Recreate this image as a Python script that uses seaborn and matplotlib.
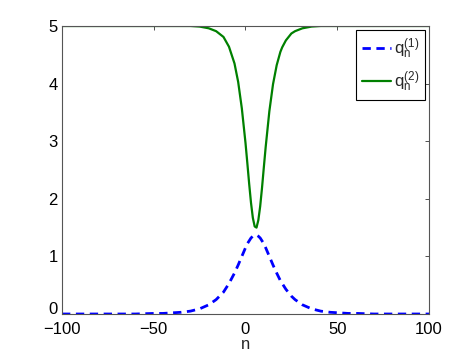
import matplotlib
matplotlib.use("Agg")
import matplotlib.pyplot as plt
import matplotlib.transforms as mtransforms
import seaborn as sns
import pandas as pd

# lattice sites
n_vals = [-100, -80, -60, -50, -45, -40, -35, -30, -25, -20, -16, -12, -9, -6, -4, -2,
          0, 1, 2, 3, 4, 5, 6, 7, 8, 9, 10, 11, 13, 15, 17, 19, 20, 22, 25, 27, 31,
          36, 41, 46, 51, 56, 61, 70, 85, 100]
q1_vals = [0.00, 0.00, 0.00, 0.01, 0.01, 0.02, 0.03, 0.05, 0.09, 0.16, 0.25, 0.38, 0.53, 0.71, 0.85, 1.00,
           1.15, 1.22, 1.27, 1.32, 1.35, 1.37, 1.37, 1.35, 1.32, 1.27, 1.22, 1.15, 1.00, 0.85, 0.71, 0.58, 0.53, 0.43, 0.31, 0.25, 0.16,
           0.09, 0.05, 0.03, 0.02, 0.01, 0.01, 0.00, 0.00, 0.00]
q2_vals = [5.00, 5.00, 5.00, 5.00, 5.00, 5.00, 5.00, 5.00, 4.99, 4.96, 4.91, 4.81, 4.64, 4.35, 4.03, 3.57,
           2.97, 2.62, 2.26, 1.93, 1.67, 1.52, 1.50, 1.63, 1.87, 2.19, 2.55, 2.90, 3.52, 3.99, 4.32, 4.55, 4.63, 4.75, 4.87, 4.91, 4.96,
           4.99, 5.00, 5.00, 5.00, 5.00, 5.00, 5.00, 5.00, 5.00]
series_labels = [r"$q_n^{(1)}$", r"$q_n^{(2)}$"]
x_ticks = [-100, -50, 0, 50, 100]
x_tick_labels = ["\u2212100", "\u221250", "0", "50", "100"]
y_ticks = [0, 1, 2, 3, 4, 5]

sns.set_theme(style="white")
plt.rcParams["font.family"] = ["Liberation Sans", "DejaVu Sans"]
plt.rcParams["mathtext.fontset"] = "custom"
plt.rcParams["mathtext.rm"] = "Liberation Sans"
plt.rcParams["mathtext.it"] = "Liberation Sans"
plt.rcParams["xtick.direction"] = "in"
plt.rcParams["ytick.direction"] = "in"

df = pd.DataFrame({"n": n_vals, "q1": q1_vals, "q2": q2_vals})

fig = plt.figure(figsize=(4.74, 3.54), dpi=100)
ax = fig.add_axes([62 / 474, 1 - 314 / 354, (429 - 62) / 474, (314 - 26) / 354])

sns.lineplot(data=df, x="n", y="q1", ax=ax, color=(0, 0, 1), linewidth=2.0,
             linestyle=(0, (3, 2)), label=series_labels[0])
sns.lineplot(data=df, x="n", y="q2", ax=ax, color=(0, 0.5, 0), linewidth=1.6,
             label=series_labels[1])

ax.set_xlim(-100, 100)
ax.set_ylim(0, 5)
ax.set_xticks(x_ticks)
ax.set_yticks(y_ticks)
ax.set_xticklabels(x_tick_labels)
ax.set_xlabel("n", fontsize=12, labelpad=0)
ax.set_ylabel("")
ax.tick_params(axis="both", which="both", direction="in", length=3, width=0.6,
               colors="#333333", labelsize=12, labelcolor="black",
               top=True, right=True)
ax.tick_params(axis="x", pad=6)
ax.tick_params(axis="y", pad=3)
for s in ax.spines.values():
    s.set_visible(True)
    s.set_color("#555555")
    s.set_linewidth(0.8)

# lift the bottom y label a little (as in the reference) so it clears "-100"
zero_lbl = ax.get_yticklabels()[0]
zero_lbl.set_transform(zero_lbl.get_transform() +
                       mtransforms.ScaledTranslation(0, 4 / 72, fig.dpi_scale_trans))

leg = ax.legend(loc="upper right", bbox_to_anchor=(0.99, 0.985), fontsize=12,
                frameon=True, fancybox=False, framealpha=1, edgecolor="black",
                handlelength=1.7, handletextpad=0.2, borderpad=0.35, labelspacing=0.55,
                borderaxespad=0)
leg.get_frame().set_linewidth(0.8)

fig.savefig("out.png", dpi=100, facecolor="white")
